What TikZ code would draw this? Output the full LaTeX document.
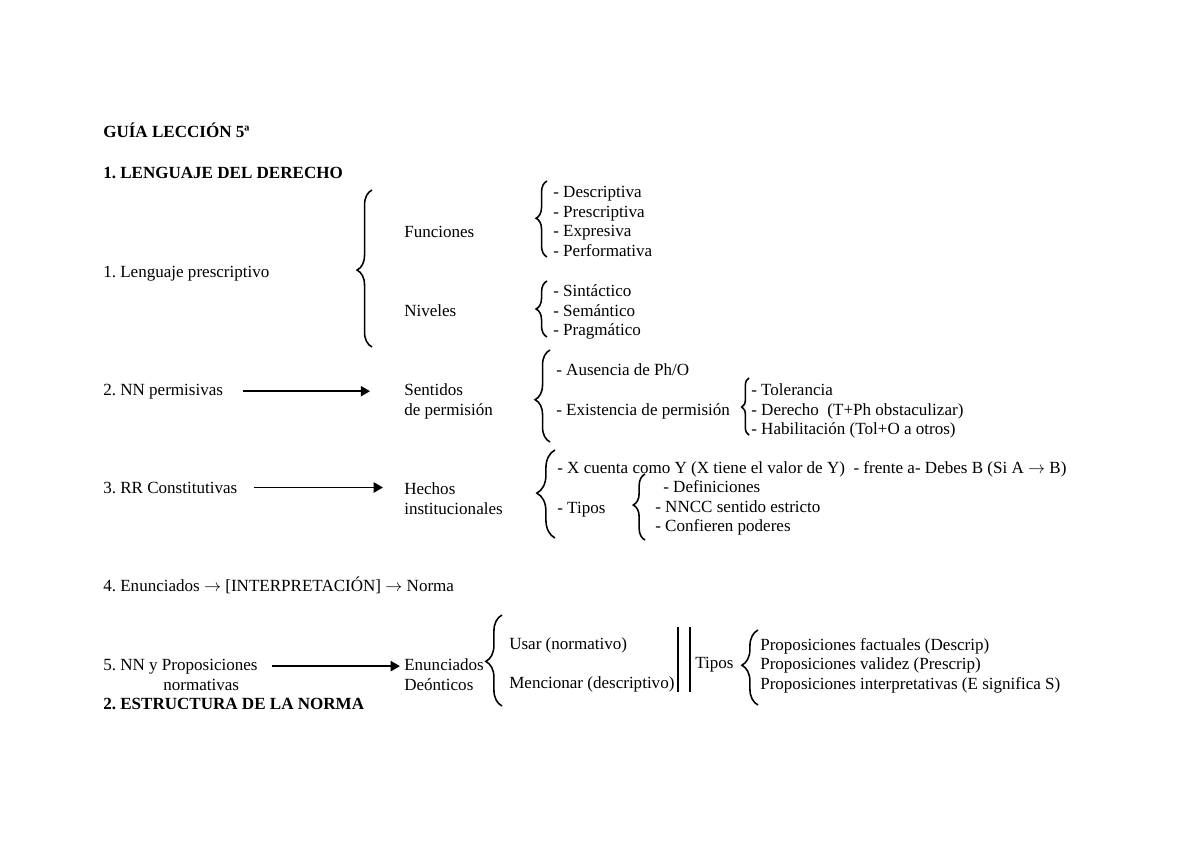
\documentclass[tikz,border=0pt]{standalone}
\usepackage{fontspec}
\setmainfont{Liberation Serif}
\usetikzlibrary{arrows.meta,decorations.pathreplacing}
\frenchspacing

\begin{document}
\begin{tikzpicture}[x=0.2475mm,y=-0.2475mm,
    font=\fontsize{12pt}{14pt}\selectfont,
    lbl/.style={anchor=base west,inner sep=0pt,yshift=-0.5mm},
    lbltwo/.style={anchor=west,align=left,inner sep=0pt,yshift=-0.5mm},
    hdr/.style={lbl,font=\fontsize{12pt}{14pt}\selectfont\bfseries},
    brc/.style={decorate,decoration={brace,amplitude=#1},line width=1.1pt},
    arr/.style={-{Triangle[length=2.3mm,width=2.5mm]},line width=1.4pt},
    bar/.style={line width=1.2pt}]
  \useasboundingbox (0,0) rectangle (1200,848);

  % headings
  \node[hdr] (guia) at (103,135) {GUÍA LECCIÓN 5ª};
  \node[hdr] (leng) at (103,176) {1. LENGUAJE DEL DERECHO};

  % 1. lenguaje prescriptivo
  \node[lbl] (presc) at (103,275) {1. Lenguaje prescriptivo};
  \node[lbl] (func) at (404,235) {Funciones};
  \node[lbl] (nive) at (404,314) {Niveles};
  \node[lbl] (fdes) at (553,195) {- Descriptiva};
  \node[lbl] (fpre) at (553,215) {- Prescriptiva};
  \node[lbl] (fexp) at (553,234) {- Expresiva};
  \node[lbl] (fper) at (553,254) {- Performativa};
  \node[lbl] (nsin) at (553,294) {- Sintáctico};
  \node[lbl] (nsem) at (553,314) {- Semántico};
  \node[lbl] (npra) at (553,333) {- Pragmático};
  \draw[brc=3.7mm,decoration={aspect=0.49}] (372,347) -- (372,190);
  \draw[brc=2.7mm,decoration={aspect=0.51}] (547,257) -- (547,181);
  \draw[brc=2.7mm] (547,337) -- (547,281);

  % 2. permisivas
  \node[lbl] (perm) at (103,393) {2. NN permisivas};
  \node[lbltwo] (sent) at (404,399) {Sentidos\\de permisión};
  \node[lbl] (ause) at (556,373) {- Ausencia de Ph/O};
  \node[lbl] (exis) at (556,413) {- Existencia de permisión};
  \node[lbl] (tole) at (751,393) {- Tolerancia};
  \node[lbl] (dere) at (751,413) {- Derecho\ \ (T+Ph obstaculizar)};
  \node[lbl] (habi) at (751,432) {- Habilitación (Tol+O a otros)};
  \draw[arr,shorten <=4.9mm,shorten >=8.4mm] (perm.east) -- (perm.east -| sent.west);
  \draw[brc=3.7mm,decoration={aspect=0.46}] (550,442) -- (550,350);
  \draw[brc=1.8mm,decoration={aspect=0.49}] (749,435) -- (749,378);

  % 3. constitutivas
  \node[lbl] (cons) at (103,491) {3. RR Constitutivas};
  \node[lbltwo] (hech) at (404,497) {Hechos\\institucionales};
  \node[lbl] (xcue) at (557,471) {- X cuenta como Y (X tiene el valor de Y)\ \ - frente a- Debes B (Si A $\rightarrow$ B)};
  \node[lbl] (tipo) at (557,511) {- Tipos};
  \node[lbl] (defi) at (663,490) {- Definiciones};
  \node[lbl] (nncc) at (655,510) {- NNCC sentido estricto};
  \node[lbl] (conf) at (655,529) {- Confieren poderes};
  \draw[arr,shorten <=4mm,shorten >=5.2mm] (cons.east) -- (cons.east -| hech.west);
  \draw[brc=4.5mm,decoration={aspect=0.51}] (555,538) -- (555,450);
  \draw[brc=2.9mm,decoration={aspect=0.53}] (645,540) -- (645,474);

  % 4. interpretacion
  \node[lbl] (inte) at (103,589) {4. Enunciados $\rightarrow$ [INTERPRETACIÓN] $\rightarrow$ Norma};

  % 5. proposiciones
  \node[lbltwo] (prop) at (103,673) {5. NN y Proposiciones\\\hspace*{14.85mm}normativas};
  \node[lbltwo] (enun) at (404,673) {Enunciados\\Deónticos};
  \node[lbl] (usar) at (509,647) {Usar (normativo)};
  \node[lbl] (menc) at (509,686) {Mencionar (descriptivo)};
  \node[lbl] (tpos) at (695,666) {Tipos};
  \node[lbl] (pfac) at (760,648) {Proposiciones factuales (Descrip)};
  \node[lbl] (pval) at (760,667) {Proposiciones validez (Prescrip)};
  \node[lbl] (pint) at (760,687) {Proposiciones interpretativas (E significa S)};
  \draw[arr,shorten <=3.5mm,shorten >=1mm] ([yshift=2.2mm]prop.east) -- ([yshift=2.2mm]prop.east -| enun.west);
  \draw[brc=4mm,decoration={aspect=0.49}] (502,706) -- (502,615);
  \draw[bar] (678,627) -- (678,692);
  \draw[bar] (690,627) -- (690,692);
  \draw[brc=4mm,decoration={aspect=0.53}] (758,705) -- (758,630);

  \node[hdr] (estr) at (103,707) {2. ESTRUCTURA DE LA NORMA};
\end{tikzpicture}
\end{document}
